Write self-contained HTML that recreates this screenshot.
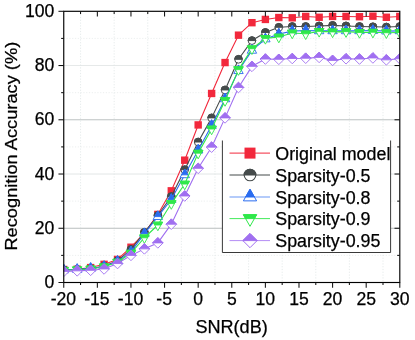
<!DOCTYPE html><html><head><meta charset="utf-8"><title>Recognition Accuracy vs SNR</title>
<style>html,body{margin:0;padding:0;background:#fff}body{width:415px;height:340px;overflow:hidden}svg{display:block}text{font-family:"Liberation Sans",sans-serif;fill:#000;stroke:#000;stroke-width:0.25px}</style></head><body>
<svg width="415" height="340" viewBox="0 0 415 340">
<rect width="415" height="340" fill="#fff"/>
<defs><clipPath id="pc"><rect x="63.75" y="11.3" width="336.05" height="271.2"/></clipPath></defs>
<g fill="none">
<line x1="63.75" x2="399.8" y1="255.38" y2="255.38" stroke="#e7ebeb" stroke-width="0.8" stroke-dasharray="1.2 1.6"/>
<line x1="63.75" x2="399.8" y1="201.14" y2="201.14" stroke="#e7ebeb" stroke-width="0.8" stroke-dasharray="1.2 1.6"/>
<line x1="63.75" x2="399.8" y1="146.9" y2="146.9" stroke="#e7ebeb" stroke-width="0.8" stroke-dasharray="1.2 1.6"/>
<line x1="63.75" x2="399.8" y1="92.66" y2="92.66" stroke="#e7ebeb" stroke-width="0.8" stroke-dasharray="1.2 1.6"/>
<line x1="63.75" x2="399.8" y1="38.42" y2="38.42" stroke="#e7ebeb" stroke-width="0.8" stroke-dasharray="1.2 1.6"/>
<line x1="63.75" x2="399.8" y1="228.26" y2="228.26" stroke="#b9bfbf" stroke-width="1"/>
<line x1="63.75" x2="399.8" y1="174.02" y2="174.02" stroke="#e3e6e6" stroke-width="1"/>
<line x1="63.75" x2="399.8" y1="119.78" y2="119.78" stroke="#bcc2c2" stroke-width="1"/>
<line x1="63.75" x2="399.8" y1="65.54" y2="65.54" stroke="#e6e9e9" stroke-width="1"/>
<line y1="11.3" y2="282.5" x1="80.55" x2="80.55" stroke="#e0e6e6" stroke-width="0.8" stroke-dasharray="1.2 1.6"/>
<line y1="11.3" y2="282.5" x1="114.16" x2="114.16" stroke="#e0e6e6" stroke-width="0.8" stroke-dasharray="1.2 1.6"/>
<line y1="11.3" y2="282.5" x1="147.76" x2="147.76" stroke="#e0e6e6" stroke-width="0.8" stroke-dasharray="1.2 1.6"/>
<line y1="11.3" y2="282.5" x1="181.37" x2="181.37" stroke="#e0e6e6" stroke-width="0.8" stroke-dasharray="1.2 1.6"/>
<line y1="11.3" y2="282.5" x1="214.97" x2="214.97" stroke="#e0e6e6" stroke-width="0.8" stroke-dasharray="1.2 1.6"/>
<line y1="11.3" y2="282.5" x1="248.58" x2="248.58" stroke="#e0e6e6" stroke-width="0.8" stroke-dasharray="1.2 1.6"/>
<line y1="11.3" y2="282.5" x1="282.18" x2="282.18" stroke="#e0e6e6" stroke-width="0.8" stroke-dasharray="1.2 1.6"/>
<line y1="11.3" y2="282.5" x1="315.79" x2="315.79" stroke="#e0e6e6" stroke-width="0.8" stroke-dasharray="1.2 1.6"/>
<line y1="11.3" y2="282.5" x1="349.39" x2="349.39" stroke="#e0e6e6" stroke-width="0.8" stroke-dasharray="1.2 1.6"/>
<line y1="11.3" y2="282.5" x1="383" x2="383" stroke="#e0e6e6" stroke-width="0.8" stroke-dasharray="1.2 1.6"/>
</g>
<g clip-path="url(#pc)">
<polyline points="63.75,269.48 77.19,269.21 90.63,267.58 104.08,264.33 117.52,259.45 130.96,247.24 144.4,233.14 157.84,214.43 171.29,190.83 184.73,160.19 198.17,124.93 211.61,93.47 225.05,62.56 238.5,35.17 251.94,22.69 265.38,19.44 278.82,17.54 292.26,17.81 305.71,16.45 319.15,17.27 332.59,16.45 346.03,16.45 359.47,16.72 372.92,16.18 386.36,17.27 399.8,16.45" fill="none" stroke="#f2283c" stroke-width="1.1" stroke-linejoin="round"/>
<rect x="60.05" y="265.78" width="7.4" height="7.4" fill="#f2283c"/>
<rect x="73.49" y="265.51" width="7.4" height="7.4" fill="#f2283c"/>
<rect x="86.93" y="263.88" width="7.4" height="7.4" fill="#f2283c"/>
<rect x="100.38" y="260.63" width="7.4" height="7.4" fill="#f2283c"/>
<rect x="113.82" y="255.75" width="7.4" height="7.4" fill="#f2283c"/>
<rect x="127.26" y="243.54" width="7.4" height="7.4" fill="#f2283c"/>
<rect x="140.7" y="229.44" width="7.4" height="7.4" fill="#f2283c"/>
<rect x="154.14" y="210.73" width="7.4" height="7.4" fill="#f2283c"/>
<rect x="167.59" y="187.13" width="7.4" height="7.4" fill="#f2283c"/>
<rect x="181.03" y="156.49" width="7.4" height="7.4" fill="#f2283c"/>
<rect x="194.47" y="121.23" width="7.4" height="7.4" fill="#f2283c"/>
<rect x="207.91" y="89.77" width="7.4" height="7.4" fill="#f2283c"/>
<rect x="221.35" y="58.86" width="7.4" height="7.4" fill="#f2283c"/>
<rect x="234.8" y="31.47" width="7.4" height="7.4" fill="#f2283c"/>
<rect x="248.24" y="18.99" width="7.4" height="7.4" fill="#f2283c"/>
<rect x="261.68" y="15.74" width="7.4" height="7.4" fill="#f2283c"/>
<rect x="275.12" y="13.84" width="7.4" height="7.4" fill="#f2283c"/>
<rect x="288.56" y="14.11" width="7.4" height="7.4" fill="#f2283c"/>
<rect x="302.01" y="12.75" width="7.4" height="7.4" fill="#f2283c"/>
<rect x="315.45" y="13.57" width="7.4" height="7.4" fill="#f2283c"/>
<rect x="328.89" y="12.75" width="7.4" height="7.4" fill="#f2283c"/>
<rect x="342.33" y="12.75" width="7.4" height="7.4" fill="#f2283c"/>
<rect x="355.77" y="13.02" width="7.4" height="7.4" fill="#f2283c"/>
<rect x="369.22" y="12.48" width="7.4" height="7.4" fill="#f2283c"/>
<rect x="382.66" y="13.57" width="7.4" height="7.4" fill="#f2283c"/>
<rect x="396.1" y="12.75" width="7.4" height="7.4" fill="#f2283c"/>
<polyline points="63.75,269.75 77.19,269.48 90.63,268.67 104.08,266.23 117.52,260.8 130.96,249.41 144.4,232.33 157.84,215.51 171.29,196.53 184.73,169.68 198.17,142.02 211.61,117.88 225.05,89.95 238.5,59.3 251.94,40.59 265.38,32.45 278.82,27.3 292.26,26.49 305.71,26.49 319.15,25.94 332.59,25.4 346.03,25.94 359.47,26.49 372.92,26.76 386.36,27.03 399.8,26.49" fill="none" stroke="#454b4b" stroke-width="1.1" stroke-linejoin="round"/>
<circle cx="63.75" cy="269.75" r="3.85" fill="#fff" stroke="#454b4b" stroke-width="1"/><path d="M59.9 269.75A3.85 3.85 0 0 1 67.6 269.75Z" fill="#454b4b" stroke="#454b4b" stroke-width="1"/>
<circle cx="77.19" cy="269.48" r="3.85" fill="#fff" stroke="#454b4b" stroke-width="1"/><path d="M73.34 269.48A3.85 3.85 0 0 1 81.04 269.48Z" fill="#454b4b" stroke="#454b4b" stroke-width="1"/>
<circle cx="90.63" cy="268.67" r="3.85" fill="#fff" stroke="#454b4b" stroke-width="1"/><path d="M86.78 268.67A3.85 3.85 0 0 1 94.48 268.67Z" fill="#454b4b" stroke="#454b4b" stroke-width="1"/>
<circle cx="104.08" cy="266.23" r="3.85" fill="#fff" stroke="#454b4b" stroke-width="1"/><path d="M100.23 266.23A3.85 3.85 0 0 1 107.93 266.23Z" fill="#454b4b" stroke="#454b4b" stroke-width="1"/>
<circle cx="117.52" cy="260.8" r="3.85" fill="#fff" stroke="#454b4b" stroke-width="1"/><path d="M113.67 260.8A3.85 3.85 0 0 1 121.37 260.8Z" fill="#454b4b" stroke="#454b4b" stroke-width="1"/>
<circle cx="130.96" cy="249.41" r="3.85" fill="#fff" stroke="#454b4b" stroke-width="1"/><path d="M127.11 249.41A3.85 3.85 0 0 1 134.81 249.41Z" fill="#454b4b" stroke="#454b4b" stroke-width="1"/>
<circle cx="144.4" cy="232.33" r="3.85" fill="#fff" stroke="#454b4b" stroke-width="1"/><path d="M140.55 232.33A3.85 3.85 0 0 1 148.25 232.33Z" fill="#454b4b" stroke="#454b4b" stroke-width="1"/>
<circle cx="157.84" cy="215.51" r="3.85" fill="#fff" stroke="#454b4b" stroke-width="1"/><path d="M153.99 215.51A3.85 3.85 0 0 1 161.69 215.51Z" fill="#454b4b" stroke="#454b4b" stroke-width="1"/>
<circle cx="171.29" cy="196.53" r="3.85" fill="#fff" stroke="#454b4b" stroke-width="1"/><path d="M167.44 196.53A3.85 3.85 0 0 1 175.14 196.53Z" fill="#454b4b" stroke="#454b4b" stroke-width="1"/>
<circle cx="184.73" cy="169.68" r="3.85" fill="#fff" stroke="#454b4b" stroke-width="1"/><path d="M180.88 169.68A3.85 3.85 0 0 1 188.58 169.68Z" fill="#454b4b" stroke="#454b4b" stroke-width="1"/>
<circle cx="198.17" cy="142.02" r="3.85" fill="#fff" stroke="#454b4b" stroke-width="1"/><path d="M194.32 142.02A3.85 3.85 0 0 1 202.02 142.02Z" fill="#454b4b" stroke="#454b4b" stroke-width="1"/>
<circle cx="211.61" cy="117.88" r="3.85" fill="#fff" stroke="#454b4b" stroke-width="1"/><path d="M207.76 117.88A3.85 3.85 0 0 1 215.46 117.88Z" fill="#454b4b" stroke="#454b4b" stroke-width="1"/>
<circle cx="225.05" cy="89.95" r="3.85" fill="#fff" stroke="#454b4b" stroke-width="1"/><path d="M221.2 89.95A3.85 3.85 0 0 1 228.9 89.95Z" fill="#454b4b" stroke="#454b4b" stroke-width="1"/>
<circle cx="238.5" cy="59.3" r="3.85" fill="#fff" stroke="#454b4b" stroke-width="1"/><path d="M234.65 59.3A3.85 3.85 0 0 1 242.35 59.3Z" fill="#454b4b" stroke="#454b4b" stroke-width="1"/>
<circle cx="251.94" cy="40.59" r="3.85" fill="#fff" stroke="#454b4b" stroke-width="1"/><path d="M248.09 40.59A3.85 3.85 0 0 1 255.79 40.59Z" fill="#454b4b" stroke="#454b4b" stroke-width="1"/>
<circle cx="265.38" cy="32.45" r="3.85" fill="#fff" stroke="#454b4b" stroke-width="1"/><path d="M261.53 32.45A3.85 3.85 0 0 1 269.23 32.45Z" fill="#454b4b" stroke="#454b4b" stroke-width="1"/>
<circle cx="278.82" cy="27.3" r="3.85" fill="#fff" stroke="#454b4b" stroke-width="1"/><path d="M274.97 27.3A3.85 3.85 0 0 1 282.67 27.3Z" fill="#454b4b" stroke="#454b4b" stroke-width="1"/>
<circle cx="292.26" cy="26.49" r="3.85" fill="#fff" stroke="#454b4b" stroke-width="1"/><path d="M288.41 26.49A3.85 3.85 0 0 1 296.11 26.49Z" fill="#454b4b" stroke="#454b4b" stroke-width="1"/>
<circle cx="305.71" cy="26.49" r="3.85" fill="#fff" stroke="#454b4b" stroke-width="1"/><path d="M301.86 26.49A3.85 3.85 0 0 1 309.56 26.49Z" fill="#454b4b" stroke="#454b4b" stroke-width="1"/>
<circle cx="319.15" cy="25.94" r="3.85" fill="#fff" stroke="#454b4b" stroke-width="1"/><path d="M315.3 25.94A3.85 3.85 0 0 1 323 25.94Z" fill="#454b4b" stroke="#454b4b" stroke-width="1"/>
<circle cx="332.59" cy="25.4" r="3.85" fill="#fff" stroke="#454b4b" stroke-width="1"/><path d="M328.74 25.4A3.85 3.85 0 0 1 336.44 25.4Z" fill="#454b4b" stroke="#454b4b" stroke-width="1"/>
<circle cx="346.03" cy="25.94" r="3.85" fill="#fff" stroke="#454b4b" stroke-width="1"/><path d="M342.18 25.94A3.85 3.85 0 0 1 349.88 25.94Z" fill="#454b4b" stroke="#454b4b" stroke-width="1"/>
<circle cx="359.47" cy="26.49" r="3.85" fill="#fff" stroke="#454b4b" stroke-width="1"/><path d="M355.62 26.49A3.85 3.85 0 0 1 363.32 26.49Z" fill="#454b4b" stroke="#454b4b" stroke-width="1"/>
<circle cx="372.92" cy="26.76" r="3.85" fill="#fff" stroke="#454b4b" stroke-width="1"/><path d="M369.07 26.76A3.85 3.85 0 0 1 376.77 26.76Z" fill="#454b4b" stroke="#454b4b" stroke-width="1"/>
<circle cx="386.36" cy="27.03" r="3.85" fill="#fff" stroke="#454b4b" stroke-width="1"/><path d="M382.51 27.03A3.85 3.85 0 0 1 390.21 27.03Z" fill="#454b4b" stroke="#454b4b" stroke-width="1"/>
<circle cx="399.8" cy="26.49" r="3.85" fill="#fff" stroke="#454b4b" stroke-width="1"/><path d="M395.95 26.49A3.85 3.85 0 0 1 403.65 26.49Z" fill="#454b4b" stroke="#454b4b" stroke-width="1"/>
<polyline points="63.75,270.02 77.19,269.48 90.63,268.4 104.08,266.5 117.52,261.35 130.96,251.85 144.4,233.68 157.84,216.6 171.29,199.51 184.73,174.83 198.17,150.15 211.61,125.48 225.05,98.9 238.5,70.69 251.94,50.35 265.38,38.96 278.82,34.08 292.26,31.1 305.71,30.56 319.15,30.83 332.59,30.83 346.03,30.83 359.47,30.83 372.92,30.56 386.36,31.1 399.8,30.83" fill="none" stroke="#2a6cf0" stroke-width="1.1" stroke-linejoin="round"/>
<path d="M63.75 264.29L68.45 272.89L59.05 272.89Z" fill="#fff" stroke="#2a6cf0" stroke-width="0.9" stroke-linejoin="miter"/><path d="M63.75 264.29L66.88 270.02L60.62 270.02Z" fill="#2a6cf0" stroke="#2a6cf0" stroke-width="0.9"/>
<path d="M77.19 263.75L81.89 272.35L72.49 272.35Z" fill="#fff" stroke="#2a6cf0" stroke-width="0.9" stroke-linejoin="miter"/><path d="M77.19 263.75L80.33 269.48L74.06 269.48Z" fill="#2a6cf0" stroke="#2a6cf0" stroke-width="0.9"/>
<path d="M90.63 262.66L95.33 271.26L85.93 271.26Z" fill="#fff" stroke="#2a6cf0" stroke-width="0.9" stroke-linejoin="miter"/><path d="M90.63 262.66L93.77 268.4L87.5 268.4Z" fill="#2a6cf0" stroke="#2a6cf0" stroke-width="0.9"/>
<path d="M104.08 260.77L108.78 269.37L99.38 269.37Z" fill="#fff" stroke="#2a6cf0" stroke-width="0.9" stroke-linejoin="miter"/><path d="M104.08 260.77L107.21 266.5L100.94 266.5Z" fill="#2a6cf0" stroke="#2a6cf0" stroke-width="0.9"/>
<path d="M117.52 255.61L122.22 264.21L112.82 264.21Z" fill="#fff" stroke="#2a6cf0" stroke-width="0.9" stroke-linejoin="miter"/><path d="M117.52 255.61L120.65 261.35L114.38 261.35Z" fill="#2a6cf0" stroke="#2a6cf0" stroke-width="0.9"/>
<path d="M130.96 246.12L135.66 254.72L126.26 254.72Z" fill="#fff" stroke="#2a6cf0" stroke-width="0.9" stroke-linejoin="miter"/><path d="M130.96 246.12L134.09 251.85L127.83 251.85Z" fill="#2a6cf0" stroke="#2a6cf0" stroke-width="0.9"/>
<path d="M144.4 227.95L149.1 236.55L139.7 236.55Z" fill="#fff" stroke="#2a6cf0" stroke-width="0.9" stroke-linejoin="miter"/><path d="M144.4 227.95L147.54 233.68L141.27 233.68Z" fill="#2a6cf0" stroke="#2a6cf0" stroke-width="0.9"/>
<path d="M157.84 210.87L162.54 219.47L153.14 219.47Z" fill="#fff" stroke="#2a6cf0" stroke-width="0.9" stroke-linejoin="miter"/><path d="M157.84 210.87L160.98 216.6L154.71 216.6Z" fill="#2a6cf0" stroke="#2a6cf0" stroke-width="0.9"/>
<path d="M171.29 193.78L175.99 202.38L166.59 202.38Z" fill="#fff" stroke="#2a6cf0" stroke-width="0.9" stroke-linejoin="miter"/><path d="M171.29 193.78L174.42 199.51L168.15 199.51Z" fill="#2a6cf0" stroke="#2a6cf0" stroke-width="0.9"/>
<path d="M184.73 169.1L189.43 177.7L180.03 177.7Z" fill="#fff" stroke="#2a6cf0" stroke-width="0.9" stroke-linejoin="miter"/><path d="M184.73 169.1L187.86 174.83L181.59 174.83Z" fill="#2a6cf0" stroke="#2a6cf0" stroke-width="0.9"/>
<path d="M198.17 144.42L202.87 153.02L193.47 153.02Z" fill="#fff" stroke="#2a6cf0" stroke-width="0.9" stroke-linejoin="miter"/><path d="M198.17 144.42L201.3 150.15L195.04 150.15Z" fill="#2a6cf0" stroke="#2a6cf0" stroke-width="0.9"/>
<path d="M211.61 119.74L216.31 128.34L206.91 128.34Z" fill="#fff" stroke="#2a6cf0" stroke-width="0.9" stroke-linejoin="miter"/><path d="M211.61 119.74L214.75 125.48L208.48 125.48Z" fill="#2a6cf0" stroke="#2a6cf0" stroke-width="0.9"/>
<path d="M225.05 93.16L229.75 101.76L220.35 101.76Z" fill="#fff" stroke="#2a6cf0" stroke-width="0.9" stroke-linejoin="miter"/><path d="M225.05 93.16L228.19 98.9L221.92 98.9Z" fill="#2a6cf0" stroke="#2a6cf0" stroke-width="0.9"/>
<path d="M238.5 64.96L243.2 73.56L233.8 73.56Z" fill="#fff" stroke="#2a6cf0" stroke-width="0.9" stroke-linejoin="miter"/><path d="M238.5 64.96L241.63 70.69L235.36 70.69Z" fill="#2a6cf0" stroke="#2a6cf0" stroke-width="0.9"/>
<path d="M251.94 44.62L256.64 53.22L247.24 53.22Z" fill="#fff" stroke="#2a6cf0" stroke-width="0.9" stroke-linejoin="miter"/><path d="M251.94 44.62L255.07 50.35L248.8 50.35Z" fill="#2a6cf0" stroke="#2a6cf0" stroke-width="0.9"/>
<path d="M265.38 33.23L270.08 41.83L260.68 41.83Z" fill="#fff" stroke="#2a6cf0" stroke-width="0.9" stroke-linejoin="miter"/><path d="M265.38 33.23L268.51 38.96L262.25 38.96Z" fill="#2a6cf0" stroke="#2a6cf0" stroke-width="0.9"/>
<path d="M278.82 28.35L283.52 36.95L274.12 36.95Z" fill="#fff" stroke="#2a6cf0" stroke-width="0.9" stroke-linejoin="miter"/><path d="M278.82 28.35L281.96 34.08L275.69 34.08Z" fill="#2a6cf0" stroke="#2a6cf0" stroke-width="0.9"/>
<path d="M292.26 25.36L296.96 33.96L287.56 33.96Z" fill="#fff" stroke="#2a6cf0" stroke-width="0.9" stroke-linejoin="miter"/><path d="M292.26 25.36L295.4 31.1L289.13 31.1Z" fill="#2a6cf0" stroke="#2a6cf0" stroke-width="0.9"/>
<path d="M305.71 24.82L310.41 33.42L301.01 33.42Z" fill="#fff" stroke="#2a6cf0" stroke-width="0.9" stroke-linejoin="miter"/><path d="M305.71 24.82L308.84 30.56L302.57 30.56Z" fill="#2a6cf0" stroke="#2a6cf0" stroke-width="0.9"/>
<path d="M319.15 25.09L323.85 33.69L314.45 33.69Z" fill="#fff" stroke="#2a6cf0" stroke-width="0.9" stroke-linejoin="miter"/><path d="M319.15 25.09L322.28 30.83L316.01 30.83Z" fill="#2a6cf0" stroke="#2a6cf0" stroke-width="0.9"/>
<path d="M332.59 25.09L337.29 33.69L327.89 33.69Z" fill="#fff" stroke="#2a6cf0" stroke-width="0.9" stroke-linejoin="miter"/><path d="M332.59 25.09L335.72 30.83L329.46 30.83Z" fill="#2a6cf0" stroke="#2a6cf0" stroke-width="0.9"/>
<path d="M346.03 25.09L350.73 33.69L341.33 33.69Z" fill="#fff" stroke="#2a6cf0" stroke-width="0.9" stroke-linejoin="miter"/><path d="M346.03 25.09L349.17 30.83L342.9 30.83Z" fill="#2a6cf0" stroke="#2a6cf0" stroke-width="0.9"/>
<path d="M359.47 25.09L364.17 33.69L354.77 33.69Z" fill="#fff" stroke="#2a6cf0" stroke-width="0.9" stroke-linejoin="miter"/><path d="M359.47 25.09L362.61 30.83L356.34 30.83Z" fill="#2a6cf0" stroke="#2a6cf0" stroke-width="0.9"/>
<path d="M372.92 24.82L377.62 33.42L368.22 33.42Z" fill="#fff" stroke="#2a6cf0" stroke-width="0.9" stroke-linejoin="miter"/><path d="M372.92 24.82L376.05 30.56L369.78 30.56Z" fill="#2a6cf0" stroke="#2a6cf0" stroke-width="0.9"/>
<path d="M386.36 25.36L391.06 33.96L381.66 33.96Z" fill="#fff" stroke="#2a6cf0" stroke-width="0.9" stroke-linejoin="miter"/><path d="M386.36 25.36L389.49 31.1L383.22 31.1Z" fill="#2a6cf0" stroke="#2a6cf0" stroke-width="0.9"/>
<path d="M399.8 25.09L404.5 33.69L395.1 33.69Z" fill="#fff" stroke="#2a6cf0" stroke-width="0.9" stroke-linejoin="miter"/><path d="M399.8 25.09L402.93 30.83L396.67 30.83Z" fill="#2a6cf0" stroke="#2a6cf0" stroke-width="0.9"/>
<polyline points="63.75,270.3 77.19,269.75 90.63,268.94 104.08,266.77 117.52,262.16 130.96,253.21 144.4,237.75 157.84,225.01 171.29,203.58 184.73,184.05 198.17,153.14 211.61,129 225.05,100.52 238.5,69.61 251.94,48.73 265.38,38.42 278.82,37.06 292.26,33 305.71,33.81 319.15,31.37 332.59,31.91 346.03,31.64 359.47,32.45 372.92,32.18 386.36,32.72 399.8,32.45" fill="none" stroke="#2fe84a" stroke-width="1.1" stroke-linejoin="round"/>
<path d="M59.05 267.43L68.45 267.43L63.75 276.03Z" fill="#fff" stroke="#2fe84a" stroke-width="0.9"/><path d="M59.05 267.43L68.45 267.43L66.88 270.3L60.62 270.3Z" fill="#2fe84a" stroke="#2fe84a" stroke-width="0.9"/>
<path d="M72.49 266.89L81.89 266.89L77.19 275.49Z" fill="#fff" stroke="#2fe84a" stroke-width="0.9"/><path d="M72.49 266.89L81.89 266.89L80.33 269.75L74.06 269.75Z" fill="#2fe84a" stroke="#2fe84a" stroke-width="0.9"/>
<path d="M85.93 266.07L95.33 266.07L90.63 274.67Z" fill="#fff" stroke="#2fe84a" stroke-width="0.9"/><path d="M85.93 266.07L95.33 266.07L93.77 268.94L87.5 268.94Z" fill="#2fe84a" stroke="#2fe84a" stroke-width="0.9"/>
<path d="M99.38 263.9L108.78 263.9L104.08 272.5Z" fill="#fff" stroke="#2fe84a" stroke-width="0.9"/><path d="M99.38 263.9L108.78 263.9L107.21 266.77L100.94 266.77Z" fill="#2fe84a" stroke="#2fe84a" stroke-width="0.9"/>
<path d="M112.82 259.29L122.22 259.29L117.52 267.89Z" fill="#fff" stroke="#2fe84a" stroke-width="0.9"/><path d="M112.82 259.29L122.22 259.29L120.65 262.16L114.38 262.16Z" fill="#2fe84a" stroke="#2fe84a" stroke-width="0.9"/>
<path d="M126.26 250.34L135.66 250.34L130.96 258.94Z" fill="#fff" stroke="#2fe84a" stroke-width="0.9"/><path d="M126.26 250.34L135.66 250.34L134.09 253.21L127.83 253.21Z" fill="#2fe84a" stroke="#2fe84a" stroke-width="0.9"/>
<path d="M139.7 234.89L149.1 234.89L144.4 243.49Z" fill="#fff" stroke="#2fe84a" stroke-width="0.9"/><path d="M139.7 234.89L149.1 234.89L147.54 237.75L141.27 237.75Z" fill="#2fe84a" stroke="#2fe84a" stroke-width="0.9"/>
<path d="M153.14 222.14L162.54 222.14L157.84 230.74Z" fill="#fff" stroke="#2fe84a" stroke-width="0.9"/><path d="M153.14 222.14L162.54 222.14L160.98 225.01L154.71 225.01Z" fill="#2fe84a" stroke="#2fe84a" stroke-width="0.9"/>
<path d="M166.59 200.71L175.99 200.71L171.29 209.31Z" fill="#fff" stroke="#2fe84a" stroke-width="0.9"/><path d="M166.59 200.71L175.99 200.71L174.42 203.58L168.15 203.58Z" fill="#2fe84a" stroke="#2fe84a" stroke-width="0.9"/>
<path d="M180.03 181.19L189.43 181.19L184.73 189.79Z" fill="#fff" stroke="#2fe84a" stroke-width="0.9"/><path d="M180.03 181.19L189.43 181.19L187.86 184.05L181.59 184.05Z" fill="#2fe84a" stroke="#2fe84a" stroke-width="0.9"/>
<path d="M193.47 150.27L202.87 150.27L198.17 158.87Z" fill="#fff" stroke="#2fe84a" stroke-width="0.9"/><path d="M193.47 150.27L202.87 150.27L201.3 153.14L195.04 153.14Z" fill="#2fe84a" stroke="#2fe84a" stroke-width="0.9"/>
<path d="M206.91 126.13L216.31 126.13L211.61 134.73Z" fill="#fff" stroke="#2fe84a" stroke-width="0.9"/><path d="M206.91 126.13L216.31 126.13L214.75 129L208.48 129Z" fill="#2fe84a" stroke="#2fe84a" stroke-width="0.9"/>
<path d="M220.35 97.66L229.75 97.66L225.05 106.26Z" fill="#fff" stroke="#2fe84a" stroke-width="0.9"/><path d="M220.35 97.66L229.75 97.66L228.19 100.52L221.92 100.52Z" fill="#2fe84a" stroke="#2fe84a" stroke-width="0.9"/>
<path d="M233.8 66.74L243.2 66.74L238.5 75.34Z" fill="#fff" stroke="#2fe84a" stroke-width="0.9"/><path d="M233.8 66.74L243.2 66.74L241.63 69.61L235.36 69.61Z" fill="#2fe84a" stroke="#2fe84a" stroke-width="0.9"/>
<path d="M247.24 45.86L256.64 45.86L251.94 54.46Z" fill="#fff" stroke="#2fe84a" stroke-width="0.9"/><path d="M247.24 45.86L256.64 45.86L255.07 48.73L248.8 48.73Z" fill="#2fe84a" stroke="#2fe84a" stroke-width="0.9"/>
<path d="M260.68 35.55L270.08 35.55L265.38 44.15Z" fill="#fff" stroke="#2fe84a" stroke-width="0.9"/><path d="M260.68 35.55L270.08 35.55L268.51 38.42L262.25 38.42Z" fill="#2fe84a" stroke="#2fe84a" stroke-width="0.9"/>
<path d="M274.12 34.2L283.52 34.2L278.82 42.8Z" fill="#fff" stroke="#2fe84a" stroke-width="0.9"/><path d="M274.12 34.2L283.52 34.2L281.96 37.06L275.69 37.06Z" fill="#2fe84a" stroke="#2fe84a" stroke-width="0.9"/>
<path d="M287.56 30.13L296.96 30.13L292.26 38.73Z" fill="#fff" stroke="#2fe84a" stroke-width="0.9"/><path d="M287.56 30.13L296.96 30.13L295.4 33L289.13 33Z" fill="#2fe84a" stroke="#2fe84a" stroke-width="0.9"/>
<path d="M301.01 30.94L310.41 30.94L305.71 39.54Z" fill="#fff" stroke="#2fe84a" stroke-width="0.9"/><path d="M301.01 30.94L310.41 30.94L308.84 33.81L302.57 33.81Z" fill="#2fe84a" stroke="#2fe84a" stroke-width="0.9"/>
<path d="M314.45 28.5L323.85 28.5L319.15 37.1Z" fill="#fff" stroke="#2fe84a" stroke-width="0.9"/><path d="M314.45 28.5L323.85 28.5L322.28 31.37L316.01 31.37Z" fill="#2fe84a" stroke="#2fe84a" stroke-width="0.9"/>
<path d="M327.89 29.04L337.29 29.04L332.59 37.64Z" fill="#fff" stroke="#2fe84a" stroke-width="0.9"/><path d="M327.89 29.04L337.29 29.04L335.72 31.91L329.46 31.91Z" fill="#2fe84a" stroke="#2fe84a" stroke-width="0.9"/>
<path d="M341.33 28.77L350.73 28.77L346.03 37.37Z" fill="#fff" stroke="#2fe84a" stroke-width="0.9"/><path d="M341.33 28.77L350.73 28.77L349.17 31.64L342.9 31.64Z" fill="#2fe84a" stroke="#2fe84a" stroke-width="0.9"/>
<path d="M354.77 29.59L364.17 29.59L359.47 38.19Z" fill="#fff" stroke="#2fe84a" stroke-width="0.9"/><path d="M354.77 29.59L364.17 29.59L362.61 32.45L356.34 32.45Z" fill="#2fe84a" stroke="#2fe84a" stroke-width="0.9"/>
<path d="M368.22 29.32L377.62 29.32L372.92 37.92Z" fill="#fff" stroke="#2fe84a" stroke-width="0.9"/><path d="M368.22 29.32L377.62 29.32L376.05 32.18L369.78 32.18Z" fill="#2fe84a" stroke="#2fe84a" stroke-width="0.9"/>
<path d="M381.66 29.86L391.06 29.86L386.36 38.46Z" fill="#fff" stroke="#2fe84a" stroke-width="0.9"/><path d="M381.66 29.86L391.06 29.86L389.49 32.72L383.22 32.72Z" fill="#2fe84a" stroke="#2fe84a" stroke-width="0.9"/>
<path d="M395.1 29.59L404.5 29.59L399.8 38.19Z" fill="#fff" stroke="#2fe84a" stroke-width="0.9"/><path d="M395.1 29.59L404.5 29.59L402.93 32.45L396.67 32.45Z" fill="#2fe84a" stroke="#2fe84a" stroke-width="0.9"/>
<polyline points="63.75,271.38 77.19,270.84 90.63,270.3 104.08,268.94 117.52,263.52 130.96,255.38 144.4,248.87 157.84,242.9 171.29,224.19 184.73,195.99 198.17,168.32 211.61,147.17 225.05,117.88 238.5,87.51 251.94,66.35 265.38,59.03 278.82,59.3 292.26,58.49 305.71,58.22 319.15,57.4 332.59,60.39 346.03,58.76 359.47,59.03 372.92,57.95 386.36,59.84 399.8,58.76" fill="none" stroke="#a06ff0" stroke-width="1.1" stroke-linejoin="round"/>
<path d="M63.75 266.08L69.05 271.38L63.75 276.68L58.45 271.38Z" fill="#fff" stroke="#a06ff0" stroke-width="0.9"/><path d="M63.75 266.08L69.05 271.38L58.45 271.38Z" fill="#a06ff0" stroke="#a06ff0" stroke-width="0.9"/>
<path d="M77.19 265.54L82.49 270.84L77.19 276.14L71.89 270.84Z" fill="#fff" stroke="#a06ff0" stroke-width="0.9"/><path d="M77.19 265.54L82.49 270.84L71.89 270.84Z" fill="#a06ff0" stroke="#a06ff0" stroke-width="0.9"/>
<path d="M90.63 265L95.93 270.3L90.63 275.6L85.33 270.3Z" fill="#fff" stroke="#a06ff0" stroke-width="0.9"/><path d="M90.63 265L95.93 270.3L85.33 270.3Z" fill="#a06ff0" stroke="#a06ff0" stroke-width="0.9"/>
<path d="M104.08 263.64L109.38 268.94L104.08 274.24L98.78 268.94Z" fill="#fff" stroke="#a06ff0" stroke-width="0.9"/><path d="M104.08 263.64L109.38 268.94L98.78 268.94Z" fill="#a06ff0" stroke="#a06ff0" stroke-width="0.9"/>
<path d="M117.52 258.22L122.82 263.52L117.52 268.82L112.22 263.52Z" fill="#fff" stroke="#a06ff0" stroke-width="0.9"/><path d="M117.52 258.22L122.82 263.52L112.22 263.52Z" fill="#a06ff0" stroke="#a06ff0" stroke-width="0.9"/>
<path d="M130.96 250.08L136.26 255.38L130.96 260.68L125.66 255.38Z" fill="#fff" stroke="#a06ff0" stroke-width="0.9"/><path d="M130.96 250.08L136.26 255.38L125.66 255.38Z" fill="#a06ff0" stroke="#a06ff0" stroke-width="0.9"/>
<path d="M144.4 243.57L149.7 248.87L144.4 254.17L139.1 248.87Z" fill="#fff" stroke="#a06ff0" stroke-width="0.9"/><path d="M144.4 243.57L149.7 248.87L139.1 248.87Z" fill="#a06ff0" stroke="#a06ff0" stroke-width="0.9"/>
<path d="M157.84 237.6L163.14 242.9L157.84 248.2L152.54 242.9Z" fill="#fff" stroke="#a06ff0" stroke-width="0.9"/><path d="M157.84 237.6L163.14 242.9L152.54 242.9Z" fill="#a06ff0" stroke="#a06ff0" stroke-width="0.9"/>
<path d="M171.29 218.89L176.59 224.19L171.29 229.49L165.99 224.19Z" fill="#fff" stroke="#a06ff0" stroke-width="0.9"/><path d="M171.29 218.89L176.59 224.19L165.99 224.19Z" fill="#a06ff0" stroke="#a06ff0" stroke-width="0.9"/>
<path d="M184.73 190.69L190.03 195.99L184.73 201.29L179.43 195.99Z" fill="#fff" stroke="#a06ff0" stroke-width="0.9"/><path d="M184.73 190.69L190.03 195.99L179.43 195.99Z" fill="#a06ff0" stroke="#a06ff0" stroke-width="0.9"/>
<path d="M198.17 163.02L203.47 168.32L198.17 173.62L192.87 168.32Z" fill="#fff" stroke="#a06ff0" stroke-width="0.9"/><path d="M198.17 163.02L203.47 168.32L192.87 168.32Z" fill="#a06ff0" stroke="#a06ff0" stroke-width="0.9"/>
<path d="M211.61 141.87L216.91 147.17L211.61 152.47L206.31 147.17Z" fill="#fff" stroke="#a06ff0" stroke-width="0.9"/><path d="M211.61 141.87L216.91 147.17L206.31 147.17Z" fill="#a06ff0" stroke="#a06ff0" stroke-width="0.9"/>
<path d="M225.05 112.58L230.35 117.88L225.05 123.18L219.75 117.88Z" fill="#fff" stroke="#a06ff0" stroke-width="0.9"/><path d="M225.05 112.58L230.35 117.88L219.75 117.88Z" fill="#a06ff0" stroke="#a06ff0" stroke-width="0.9"/>
<path d="M238.5 82.21L243.8 87.51L238.5 92.81L233.2 87.51Z" fill="#fff" stroke="#a06ff0" stroke-width="0.9"/><path d="M238.5 82.21L243.8 87.51L233.2 87.51Z" fill="#a06ff0" stroke="#a06ff0" stroke-width="0.9"/>
<path d="M251.94 61.05L257.24 66.35L251.94 71.65L246.64 66.35Z" fill="#fff" stroke="#a06ff0" stroke-width="0.9"/><path d="M251.94 61.05L257.24 66.35L246.64 66.35Z" fill="#a06ff0" stroke="#a06ff0" stroke-width="0.9"/>
<path d="M265.38 53.73L270.68 59.03L265.38 64.33L260.08 59.03Z" fill="#fff" stroke="#a06ff0" stroke-width="0.9"/><path d="M265.38 53.73L270.68 59.03L260.08 59.03Z" fill="#a06ff0" stroke="#a06ff0" stroke-width="0.9"/>
<path d="M278.82 54L284.12 59.3L278.82 64.6L273.52 59.3Z" fill="#fff" stroke="#a06ff0" stroke-width="0.9"/><path d="M278.82 54L284.12 59.3L273.52 59.3Z" fill="#a06ff0" stroke="#a06ff0" stroke-width="0.9"/>
<path d="M292.26 53.19L297.56 58.49L292.26 63.79L286.96 58.49Z" fill="#fff" stroke="#a06ff0" stroke-width="0.9"/><path d="M292.26 53.19L297.56 58.49L286.96 58.49Z" fill="#a06ff0" stroke="#a06ff0" stroke-width="0.9"/>
<path d="M305.71 52.92L311.01 58.22L305.71 63.52L300.41 58.22Z" fill="#fff" stroke="#a06ff0" stroke-width="0.9"/><path d="M305.71 52.92L311.01 58.22L300.41 58.22Z" fill="#a06ff0" stroke="#a06ff0" stroke-width="0.9"/>
<path d="M319.15 52.1L324.45 57.4L319.15 62.7L313.85 57.4Z" fill="#fff" stroke="#a06ff0" stroke-width="0.9"/><path d="M319.15 52.1L324.45 57.4L313.85 57.4Z" fill="#a06ff0" stroke="#a06ff0" stroke-width="0.9"/>
<path d="M332.59 55.09L337.89 60.39L332.59 65.69L327.29 60.39Z" fill="#fff" stroke="#a06ff0" stroke-width="0.9"/><path d="M332.59 55.09L337.89 60.39L327.29 60.39Z" fill="#a06ff0" stroke="#a06ff0" stroke-width="0.9"/>
<path d="M346.03 53.46L351.33 58.76L346.03 64.06L340.73 58.76Z" fill="#fff" stroke="#a06ff0" stroke-width="0.9"/><path d="M346.03 53.46L351.33 58.76L340.73 58.76Z" fill="#a06ff0" stroke="#a06ff0" stroke-width="0.9"/>
<path d="M359.47 53.73L364.77 59.03L359.47 64.33L354.17 59.03Z" fill="#fff" stroke="#a06ff0" stroke-width="0.9"/><path d="M359.47 53.73L364.77 59.03L354.17 59.03Z" fill="#a06ff0" stroke="#a06ff0" stroke-width="0.9"/>
<path d="M372.92 52.65L378.22 57.95L372.92 63.25L367.62 57.95Z" fill="#fff" stroke="#a06ff0" stroke-width="0.9"/><path d="M372.92 52.65L378.22 57.95L367.62 57.95Z" fill="#a06ff0" stroke="#a06ff0" stroke-width="0.9"/>
<path d="M386.36 54.54L391.66 59.84L386.36 65.14L381.06 59.84Z" fill="#fff" stroke="#a06ff0" stroke-width="0.9"/><path d="M386.36 54.54L391.66 59.84L381.06 59.84Z" fill="#a06ff0" stroke="#a06ff0" stroke-width="0.9"/>
<path d="M399.8 53.46L405.1 58.76L399.8 64.06L394.5 58.76Z" fill="#fff" stroke="#a06ff0" stroke-width="0.9"/><path d="M399.8 53.46L405.1 58.76L394.5 58.76Z" fill="#a06ff0" stroke="#a06ff0" stroke-width="0.9"/>
</g>
<rect x="63.75" y="11.3" width="336.05" height="271.2" fill="none" stroke="#000" stroke-width="1.15"/>
<g stroke="#111" stroke-width="1.05">
<line x1="58.45" x2="63.75" y1="282.5" y2="282.5"/>
<line x1="61.15" x2="63.75" y1="255.38" y2="255.38"/>
<line x1="397.2" x2="399.8" y1="255.38" y2="255.38"/>
<line x1="58.45" x2="63.75" y1="228.26" y2="228.26"/>
<line x1="394.5" x2="399.8" y1="228.26" y2="228.26"/>
<line x1="61.15" x2="63.75" y1="201.14" y2="201.14"/>
<line x1="397.2" x2="399.8" y1="201.14" y2="201.14"/>
<line x1="58.45" x2="63.75" y1="174.02" y2="174.02"/>
<line x1="394.5" x2="399.8" y1="174.02" y2="174.02"/>
<line x1="61.15" x2="63.75" y1="146.9" y2="146.9"/>
<line x1="397.2" x2="399.8" y1="146.9" y2="146.9"/>
<line x1="58.45" x2="63.75" y1="119.78" y2="119.78"/>
<line x1="394.5" x2="399.8" y1="119.78" y2="119.78"/>
<line x1="61.15" x2="63.75" y1="92.66" y2="92.66"/>
<line x1="397.2" x2="399.8" y1="92.66" y2="92.66"/>
<line x1="58.45" x2="63.75" y1="65.54" y2="65.54"/>
<line x1="394.5" x2="399.8" y1="65.54" y2="65.54"/>
<line x1="61.15" x2="63.75" y1="38.42" y2="38.42"/>
<line x1="397.2" x2="399.8" y1="38.42" y2="38.42"/>
<line x1="58.45" x2="63.75" y1="11.3" y2="11.3"/>
<line y1="282.5" y2="287.8" x1="63.75" x2="63.75"/>
<line y1="282.5" y2="285.1" x1="80.55" x2="80.55"/>
<line y1="11.3" y2="13.9" x1="80.55" x2="80.55"/>
<line y1="282.5" y2="287.8" x1="97.35" x2="97.35"/>
<line y1="11.3" y2="16.6" x1="97.35" x2="97.35"/>
<line y1="282.5" y2="285.1" x1="114.16" x2="114.16"/>
<line y1="11.3" y2="13.9" x1="114.16" x2="114.16"/>
<line y1="282.5" y2="287.8" x1="130.96" x2="130.96"/>
<line y1="11.3" y2="16.6" x1="130.96" x2="130.96"/>
<line y1="282.5" y2="285.1" x1="147.76" x2="147.76"/>
<line y1="11.3" y2="13.9" x1="147.76" x2="147.76"/>
<line y1="282.5" y2="287.8" x1="164.56" x2="164.56"/>
<line y1="11.3" y2="16.6" x1="164.56" x2="164.56"/>
<line y1="282.5" y2="285.1" x1="181.37" x2="181.37"/>
<line y1="11.3" y2="13.9" x1="181.37" x2="181.37"/>
<line y1="282.5" y2="287.8" x1="198.17" x2="198.17"/>
<line y1="11.3" y2="16.6" x1="198.17" x2="198.17"/>
<line y1="282.5" y2="285.1" x1="214.97" x2="214.97"/>
<line y1="11.3" y2="13.9" x1="214.97" x2="214.97"/>
<line y1="282.5" y2="287.8" x1="231.78" x2="231.78"/>
<line y1="11.3" y2="16.6" x1="231.78" x2="231.78"/>
<line y1="282.5" y2="285.1" x1="248.58" x2="248.58"/>
<line y1="11.3" y2="13.9" x1="248.58" x2="248.58"/>
<line y1="282.5" y2="287.8" x1="265.38" x2="265.38"/>
<line y1="11.3" y2="16.6" x1="265.38" x2="265.38"/>
<line y1="282.5" y2="285.1" x1="282.18" x2="282.18"/>
<line y1="11.3" y2="13.9" x1="282.18" x2="282.18"/>
<line y1="282.5" y2="287.8" x1="298.99" x2="298.99"/>
<line y1="11.3" y2="16.6" x1="298.99" x2="298.99"/>
<line y1="282.5" y2="285.1" x1="315.79" x2="315.79"/>
<line y1="11.3" y2="13.9" x1="315.79" x2="315.79"/>
<line y1="282.5" y2="287.8" x1="332.59" x2="332.59"/>
<line y1="11.3" y2="16.6" x1="332.59" x2="332.59"/>
<line y1="282.5" y2="285.1" x1="349.39" x2="349.39"/>
<line y1="11.3" y2="13.9" x1="349.39" x2="349.39"/>
<line y1="282.5" y2="287.8" x1="366.19" x2="366.19"/>
<line y1="11.3" y2="16.6" x1="366.19" x2="366.19"/>
<line y1="282.5" y2="285.1" x1="383" x2="383"/>
<line y1="11.3" y2="13.9" x1="383" x2="383"/>
<line y1="282.5" y2="287.8" x1="399.8" x2="399.8"/>
</g>
<g font-size="17.6">
<text x="54.4" y="288.1" text-anchor="end">0</text>
<text x="54.4" y="233.86" text-anchor="end">20</text>
<text x="54.4" y="179.62" text-anchor="end">40</text>
<text x="54.4" y="125.38" text-anchor="end">60</text>
<text x="54.4" y="71.14" text-anchor="end">80</text>
<text x="54.4" y="16.9" text-anchor="end">100</text>
<text x="63.35" y="305.4" text-anchor="middle">-20</text>
<text x="96.95" y="305.4" text-anchor="middle">-15</text>
<text x="130.56" y="305.4" text-anchor="middle">-10</text>
<text x="164.16" y="305.4" text-anchor="middle">-5</text>
<text x="198.17" y="305.4" text-anchor="middle">0</text>
<text x="231.78" y="305.4" text-anchor="middle">5</text>
<text x="265.38" y="305.4" text-anchor="middle">10</text>
<text x="298.99" y="305.4" text-anchor="middle">15</text>
<text x="332.59" y="305.4" text-anchor="middle">20</text>
<text x="366.19" y="305.4" text-anchor="middle">25</text>
<text x="399.8" y="305.4" text-anchor="middle">30</text>
</g>
<text font-size="17.9" x="231.6" y="333.4" text-anchor="middle" textLength="72.4" lengthAdjust="spacingAndGlyphs">SNR(dB)</text>
<text font-size="17.4" transform="translate(16.5 146.2) rotate(-90)" text-anchor="middle" textLength="208.8" lengthAdjust="spacingAndGlyphs">Recognition Accuracy (%)</text>
<rect x="222" y="140.5" width="169" height="112" fill="#fff"/>
<path d="M222.4 140.5V252.5H390.6V140.5" fill="none" stroke="#222" stroke-width="0.9"/>
<line x1="229.5" x2="270" y1="153.1" y2="153.1" stroke="#f2283c" stroke-width="1.0"/>
<line x1="229.5" x2="270" y1="175" y2="175" stroke="#454b4b" stroke-width="1.0"/>
<line x1="229.5" x2="270" y1="197" y2="197" stroke="#2a6cf0" stroke-width="0.7"/>
<line x1="229.5" x2="270" y1="218.6" y2="218.6" stroke="#2fe84a" stroke-width="0.9"/>
<line x1="229.5" x2="270" y1="240.6" y2="240.6" stroke="#a06ff0" stroke-width="0.8"/>
<rect x="244.5" y="147.6" width="11" height="11" fill="#f2283c"/>
<circle cx="250" cy="175" r="5.8" fill="#fff" stroke="#454b4b" stroke-width="1.1"/><path d="M244.2 175A5.8 5.8 0 0 1 255.8 175Z" fill="#454b4b" stroke="#454b4b" stroke-width="1.1"/>
<path d="M250 189.27L256.6 200.87L243.4 200.87Z" fill="#fff" stroke="#2a6cf0" stroke-width="1" stroke-linejoin="miter"/><path d="M250 189.27L254.4 197L245.6 197Z" fill="#2a6cf0" stroke="#2a6cf0" stroke-width="1"/>
<path d="M243.4 214.73L256.6 214.73L250 226.33Z" fill="#fff" stroke="#2fe84a" stroke-width="1"/><path d="M243.4 214.73L256.6 214.73L254.4 218.6L245.6 218.6Z" fill="#2fe84a" stroke="#2fe84a" stroke-width="1"/>
<path d="M250 233.5L257.1 240.6L250 247.7L242.9 240.6Z" fill="#fff" stroke="#a06ff0" stroke-width="1"/><path d="M250 233.5L257.1 240.6L242.9 240.6Z" fill="#a06ff0" stroke="#a06ff0" stroke-width="1"/>
<g font-size="17.85">
<text x="275.3" y="159.9">Original model</text>
<text x="275.3" y="181.8">Sparsity-0.5</text>
<text x="275.3" y="203.8">Sparsity-0.8</text>
<text x="275.3" y="225.4">Sparsity-0.9</text>
<text x="275.3" y="247.4">Sparsity-0.95</text>
</g>
</svg></body></html>
